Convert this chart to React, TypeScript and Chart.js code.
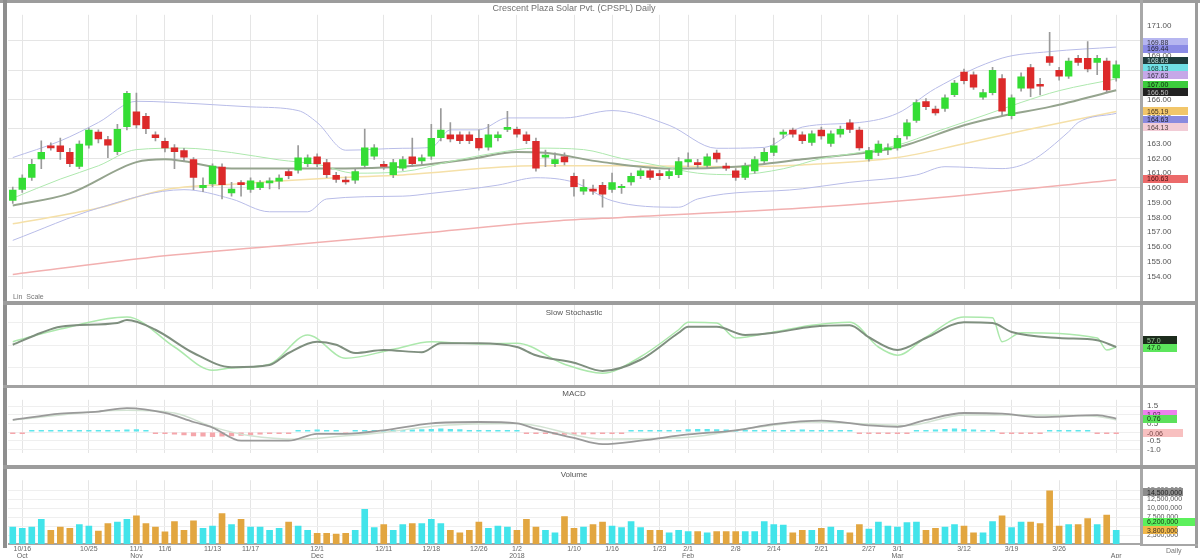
import React, { useEffect, useRef } from 'react';
import { Chart, registerables } from 'chart.js';

Chart.register(...registerables);

const FONT = "'Liberation Sans', Arial, Helvetica, sans-serif";

// ---------------- DATA ----------------
const opens = [159.13,159.88,160.69,161.94,162.88,162.88,162.44,161.44,162.88,163.81,163.31,162.44,164.13,165.19,164.88,163.63,163.19,162.75,162.56,161.94,160.0,160.25,161.44,159.63,160.38,159.88,160.0,160.31,160.44,161.13,161.19,161.63,162.13,161.75,160.88,160.56,160.5,161.5,162.13,161.63,160.88,161.31,162.13,161.81,162.13,163.38,163.63,163.63,163.63,163.38,162.75,163.38,163.94,164.0,163.63,163.19,162.06,161.63,162.13,160.81,159.75,159.94,160.19,159.88,160.0,160.38,160.81,161.19,161.0,160.81,160.88,161.75,161.75,161.5,162.38,161.5,161.19,160.69,161.13,161.81,162.38,163.63,163.94,163.63,163.06,163.94,163.0,163.63,164.44,163.94,161.94,162.38,162.56,162.69,163.5,164.56,165.88,165.38,165.38,166.31,167.88,167.69,166.13,166.44,167.44,164.88,166.75,168.19,167.06,168.94,168.0,167.56,168.81,168.81,168.5,168.63,167.44];
const highs = [160.06,160.88,161.94,163.19,163.06,163.38,162.69,163.19,164.06,163.94,163.5,164.31,166.56,166.44,165.06,163.81,163.38,162.94,162.69,162.06,160.69,161.63,161.63,160.38,160.5,160.69,160.5,160.69,160.88,161.31,162.88,162.25,162.31,161.94,161.06,160.75,161.31,164.0,162.94,161.81,161.94,162.13,163.38,162.25,164.31,165.38,164.44,163.81,163.81,163.94,164.31,163.81,165.19,164.13,163.81,163.38,162.56,162.38,162.38,161.0,160.56,160.19,160.38,161.0,160.25,161.0,161.31,161.31,161.19,161.31,162.06,162.38,161.94,162.31,162.56,161.69,161.31,161.69,162.13,162.69,163.38,163.94,164.06,163.81,163.88,164.13,163.88,164.19,164.63,164.13,162.75,163.19,163.0,163.56,164.63,166.0,166.06,165.56,166.31,167.31,168.06,167.88,166.69,168.19,167.69,166.31,167.81,168.38,167.44,170.56,168.19,168.81,169.0,169.94,169.0,168.81,168.63];
const lows = [158.94,159.69,160.5,161.31,162.56,161.94,161.44,161.31,162.69,163.06,162.06,162.25,163.94,164.06,163.69,163.19,162.44,161.31,161.81,159.88,159.75,160.06,159.25,159.44,159.44,159.69,159.88,159.94,159.94,160.63,161.0,161.44,161.44,160.69,160.38,160.25,160.31,161.31,161.94,161.25,160.69,161.19,161.44,161.63,161.94,163.19,163.13,163.0,163.0,162.56,162.56,163.19,163.81,163.44,163.0,161.13,161.44,161.44,161.56,159.44,159.56,159.56,158.69,159.69,159.63,160.19,160.63,160.56,160.56,160.63,160.69,161.44,161.31,161.31,161.75,161.19,160.5,160.56,161.0,161.63,162.19,163.38,163.44,163.0,162.88,163.31,162.81,163.44,163.75,162.56,161.81,162.19,162.25,162.56,163.31,164.44,165.31,164.94,165.19,166.19,167.06,166.69,166.0,166.31,164.94,164.69,166.56,166.19,166.31,168.31,167.31,167.44,168.31,167.88,167.69,166.44,167.25];
const closes = [159.88,160.69,161.63,162.44,162.69,162.44,161.63,163.0,163.94,163.31,162.88,164.0,166.44,164.25,164.0,163.38,162.69,162.44,162.06,160.69,160.19,161.5,160.19,159.94,160.19,160.5,160.38,160.5,160.69,160.81,162.06,162.06,161.63,160.88,160.56,160.38,161.13,162.75,162.75,161.44,161.75,161.94,161.63,162.06,163.38,163.94,163.31,163.19,163.19,162.69,163.63,163.63,164.13,163.63,163.19,161.31,162.25,161.94,161.75,160.06,160.06,159.75,159.56,160.38,160.06,160.81,161.19,160.69,160.81,161.13,161.81,161.94,161.56,162.13,161.94,161.31,160.69,161.5,161.94,162.44,162.88,163.81,163.63,163.19,163.69,163.5,163.69,164.0,163.94,162.69,162.56,163.0,162.75,163.38,164.44,165.81,165.5,165.06,166.13,167.13,167.25,166.81,166.5,168.0,165.19,166.13,167.56,166.75,166.88,168.5,167.56,168.63,168.5,168.06,168.81,166.63,168.38];

// volume in millions of shares
const volumes = [4.8,4.5,4.8,7.0,3.9,4.8,4.5,5.5,5.1,3.7,5.8,6.2,7.0,8.0,5.8,4.8,3.5,6.4,3.9,6.6,4.5,5.1,8.6,5.5,7.0,4.8,4.8,3.9,4.5,6.2,5.1,3.9,3.1,3.1,2.9,3.1,3.9,9.8,4.7,5.5,3.9,5.5,5.8,5.8,7.0,5.8,3.9,3.2,3.9,6.2,4.5,5.1,4.8,3.9,7.0,4.8,3.9,3.2,7.8,4.5,4.8,5.5,6.2,5.1,4.7,6.4,4.7,3.9,3.9,3.2,3.9,3.6,3.6,3.2,3.6,3.6,3.6,3.6,3.6,6.4,5.5,5.4,3.2,3.9,3.9,4.5,4.8,3.9,3.2,5.5,4.3,6.2,5.1,4.8,6.1,6.2,3.9,4.5,4.8,5.5,5.1,3.2,3.2,6.4,8.0,4.7,6.2,6.2,5.8,15.0,5.1,5.5,5.5,7.2,5.5,8.2,3.9];

const macdHist = [-0.05,-0.04,0.02,0.06,0.08,0.1,0.08,0.06,0.1,0.12,0.1,0.08,0.14,0.16,0.04,-0.06,-0.1,-0.14,-0.18,-0.24,-0.26,-0.28,-0.26,-0.24,-0.22,-0.18,-0.14,-0.1,-0.06,-0.02,0.08,0.12,0.14,0.1,0.02,-0.02,0.02,0.06,0.08,0.1,0.12,0.12,0.14,0.16,0.18,0.2,0.18,0.16,0.12,0.1,0.08,0.06,0.04,0.02,-0.02,-0.06,-0.1,-0.14,-0.16,-0.16,-0.14,-0.12,-0.1,-0.08,-0.06,0.02,0.04,0.06,0.08,0.1,0.12,0.16,0.18,0.18,0.16,0.14,0.12,0.1,0.08,0.06,0.08,0.1,0.12,0.14,0.12,0.08,0.06,0.04,0.04,-0.04,-0.08,-0.1,-0.1,-0.08,-0.04,0.06,0.1,0.14,0.18,0.2,0.18,0.14,0.1,0.06,-0.04,-0.08,-0.1,-0.08,-0.06,0.04,0.06,0.06,0.04,0.02,-0.02,-0.06,-0.08];

// [candle index, value] readings of the overlay lines
const bbUpper = [[0,162.06],[5,163.19],[9,164.44],[13,165.88],[20,165.69],[25,165.5],[30,165.25],[32,164.44],[35,162.56],[41,162.69],[44,162.75],[46,163.94],[49,163.94],[52,164.75],[58,164.75],[63,165.25],[69,164.25],[74,162.69],[79,162.75],[83,164.13],[89,164.44],[93,165.06],[97,166.75],[104,168.81],[109,169.25],[116,169.56]];
const bbLower = [[0,156.44],[9,158.63],[18,159.88],[23,159.25],[27,158.38],[31,158.38],[33,159.25],[41,159.44],[44,159.63],[51,160.19],[55,160.69],[59,160.38],[63,159.13],[70,158.69],[72,159.25],[83,159.94],[88,160.38],[95,160.88],[98,161.44],[104,161.31],[107,161.81],[111,163.81],[112,164.44],[116,165.06]];
const bbMiddle = [[0,159.3],[5,160.6],[9,161.5],[13,162.6],[18,162.7],[23,162.4],[28,161.9],[32,161.6],[36,161.0],[41,161.1],[46,161.8],[51,162.4],[55,162.7],[60,162.6],[64,162.0],[68,161.5],[72,161.0],[76,160.9],[81,161.3],[85,162.0],[89,162.4],[93,162.9],[97,163.8],[102,164.9],[106,165.8],[110,166.6],[116,167.4]];
const ma50 = [[0,158.81],[6,159.63],[13,161.75],[16,161.94],[23,161.31],[30,161.31],[41,161.44],[48,161.94],[53,162.44],[56,162.38],[62,161.75],[69,161.31],[76,161.44],[83,161.94],[93,162.75],[100,164.25],[104,164.88],[109,165.5],[116,166.63]];
const ma100 = [[0,157.56],[9,158.63],[16,159.88],[23,160.25],[34,160.69],[41,160.88],[55,161.5],[65,161.5],[76,161.44],[83,161.56],[93,162.06],[100,163.0],[107,164.0],[116,165.19]];
const ma200 = [[0,154.13],[14,155.25],[29,156.13],[41,156.81],[57,157.75],[64,158.0],[83,158.63],[99,159.44],[116,160.56]];

const stochK = [[0,51],[3,67],[5,75],[11,80],[12,84],[15,71],[19,40],[23,21],[27,24],[29,40],[32,55],[34,51],[36,40],[39,44],[43,41],[45,53],[49,53],[53,48],[55,37],[59,27],[62,16],[66,31],[70,67],[71,75],[74,75],[77,64],[80,67],[84,75],[88,77],[90,61],[93,44],[96,60],[100,81],[103,80],[105,68],[110,60],[114,57],[116,48]];
const stochD = [[0,55],[5,72],[12,88],[17,48],[21,17],[23,20],[27,25],[31,64],[35,33],[40,45],[44,55],[49,52],[53,53],[58,25],[62,13],[66,35],[70,71],[71,81],[74,80],[76,60],[80,68],[84,77],[88,81],[91,48],[93,37],[96,61],[100,88],[103,87],[104,55],[106,67],[114,60],[115,44],[116,48]];

const macdLine = [[0,0.70],[5,1.06],[9,1.18],[12,1.38],[16,1.10],[19,0.58],[21,0.26],[24,-0.50],[29,-0.50],[32,-0.10],[35,-0.10],[39,0.10],[44,0.50],[49,0.58],[53,0.50],[55,0.18],[59,-0.34],[62,-0.70],[66,-0.50],[71,-0.14],[76,0.10],[80,0.46],[85,0.66],[90,0.38],[93,0.30],[96,0.70],[100,1.10],[104,1.06],[108,0.86],[114,0.98],[116,0.78]];
const macdSignal = [[0,0.70],[12,1.26],[17,1.10],[21,0.30],[25,-0.22],[30,-0.42],[35,-0.22],[39,-0.02],[45,0.38],[53,0.50],[62,-0.40],[71,-0.30],[78,0.26],[84,0.58],[90,0.46],[94,0.38],[100,0.98],[106,0.98],[114,0.90],[116,0.70]];

const tickIdx = [1, 8, 13, 16, 21, 25, 32, 39, 44, 49, 53, 59, 63, 68, 71, 76, 80, 85, 90, 93, 100, 105, 110, 116];
const tickLabels: any[] = [['10/16','Oct'],'10/25',['11/1','Nov'],'11/6','11/13','11/17',['12/1','Dec'],'12/11','12/18','12/26',['1/2','2018'],'1/10','1/16','1/23',['2/1','Feb'],'2/8','2/14','2/21','2/27',['3/1','Mar'],'3/12','3/19','3/26',['','Apr']];

const priceTicks = [154,155,156,157,158,159,160,161,162,163,164,165,166,167,168,169,170,171];
const stochTicks = [20, 50, 80];
const macdTicks = [-1.0, -0.5, 0, 0.5, 1.0, 1.5];
const volTicks = [2.5, 5, 7.5, 10, 12.5, 15];

const mainTagValues = [169.88, 169.44, 168.63, 168.13, 167.63, 167.0, 166.5, 165.19, 164.63, 164.13, 160.63];
const stochTagValues = [57, 47];
const macdTagValues = [1.02, 0.76, -0.06];
const volTagValues = [14.5, 6.2, 3.8];

// ---------------- STYLES ----------------
const GRID = '#e5e5e5';
const UP = '#35dd35';
const DOWN = '#dc2a2a';
const mainTagStyle = [
  { bg: '#b6b6f0', fg: '#334' }, { bg: '#8c8ce6', fg: '#223' }, { bg: '#1e3c3c', fg: '#bdd' },
  { bg: '#70e0e6', fg: '#244' }, { bg: '#c6a8e8', fg: '#334' }, { bg: '#3ccc3c', fg: '#121' },
  { bg: '#222222', fg: '#bbb' }, { bg: '#f2c66a', fg: '#432' }, { bg: '#8a8ade', fg: '#223' },
  { bg: '#f2ccd6', fg: '#544' }, { bg: '#ec6a6a', fg: '#411' },
];
const stochTagStyle = [{ bg: '#1c2c1c', fg: '#9c9', w: 34 }, { bg: '#5ce65c', fg: '#131', w: 34 }];
const macdTagStyle = [{ bg: '#ee80ee', fg: '#424', w: 34 }, { bg: '#5ce05c', fg: '#131', w: 34 }, { bg: '#f8c0c0', fg: '#744', w: 40 }];
const volTagStyle = [{ bg: '#8c8c8c', fg: '#222', w: 40 }, { bg: '#5cf05c', fg: '#131', w: 57 }, { bg: '#f2b84a', fg: '#432', w: 34 }];

const pts = (arr: number[][]) => arr.map(([x, y]) => ({ x, y }));

function makeTagPlugin(items: { v: number; text: string; bg: string; fg: string; w?: number }[]) {
  return {
    id: 'tagBoxes',
    afterDraw(chart: any) {
      const scale = chart.scales.y;
      const ctx = chart.ctx;
      ctx.save();
      ctx.font = `7px ${FONT}`;
      ctx.textBaseline = 'middle';
      ctx.textAlign = 'left';
      for (const it of items) {
        const y = scale.getPixelForValue(it.v);
        const x = chart.chartArea.right + 3;
        ctx.fillStyle = it.bg;
        ctx.fillRect(x, Math.round(y - 4), it.w ?? 45, 8);
        ctx.fillStyle = it.fg;
        ctx.fillText(it.text, x + 4, y + 0.5);
      }
      ctx.restore();
    },
  };
}

function xAxis(showLabels: boolean) {
  return {
    type: 'linear',
    min: -0.5,
    max: 118.5,
    offset: false,
    afterBuildTicks: (s: any) => { s.ticks = tickIdx.map((v) => ({ value: v })); },
    afterFit: (s: any) => { s.height = showLabels ? 14 : 0; },
    grid: { color: GRID, lineWidth: 1, drawTicks: false, offset: false },
    border: { display: showLabels, color: '#a6a6a6', width: 2 },
    ticks: {
      display: showLabels,
      autoSkip: false,
      maxRotation: 0,
      minRotation: 0,
      padding: 2,
      color: '#666',
      font: { size: 7, family: FONT, lineHeight: 0.95 },
      callback: (v: any) => { const k = tickIdx.indexOf(Number(v)); return k >= 0 ? tickLabels[k] : ''; },
    },
  };
}

function yAxis(min: number, max: number, ticks: number[], fmt: ((v: number) => string) | null, gridColor: any, fontSize = 8) {
  return {
    type: 'linear',
    position: 'right',
    min,
    max,
    afterBuildTicks: (s: any) => { s.ticks = ticks.map((v) => ({ value: v })); },
    afterFit: (s: any) => { s.width = 55; },
    grid: { color: gridColor, lineWidth: 1, drawTicks: false },
    border: { display: false },
    ticks: {
      display: fmt !== null,
      padding: 7,
      color: '#555',
      font: { size: fontSize, family: FONT },
      callback: (v: any) => (fmt ? fmt(Number(v)) : ''),
    },
  };
}

const baseOptions = {
  responsive: false,
  maintainAspectRatio: false,
  animation: false,
  events: [],
  layout: { padding: 0 },
  plugins: { legend: { display: false }, tooltip: { enabled: false }, title: { display: false } },
};

const line = (arr: number[][], color: string, width: number) => ({
  type: 'line',
  data: pts(arr),
  borderColor: color,
  borderWidth: width,
  pointRadius: 0,
  fill: false,
  cubicInterpolationMode: 'monotone',
});

function mainConfig(): any {
  const bodies = opens.map((o, i) => ({ x: i, y: [o, closes[i]] }));
  const wicks = lows.map((l, i) => ({ x: i, y: [l, highs[i]] }));
  const colors = opens.map((o, i) => (closes[i] >= o ? UP : DOWN));
  const tags = mainTagValues.map((v, i) => ({ v, text: v.toFixed(2), ...mainTagStyle[i] }));
  return {
    type: 'bar',
    data: {
      datasets: [
        { type: 'bar', data: bodies, backgroundColor: colors, borderWidth: 0, grouped: false, barPercentage: 0.78, categoryPercentage: 1, minBarLength: 2 },
        { type: 'bar', data: wicks, backgroundColor: '#9a9a9a', borderWidth: 0, grouped: false, barThickness: 1 },
        line(bbUpper, '#b8bce8', 1),
        line(bbLower, '#b8bce8', 1),
        line(bbMiddle, '#aee8ae', 1),
        line(ma50, '#95a48e', 2),
        line(ma100, '#f5e0a8', 1.5),
        line(ma200, '#f2b0b0', 1.5),
      ],
    },
    options: {
      ...baseOptions,
      scales: {
        x: xAxis(false),
        y: yAxis(153.125, 171.75, priceTicks, (v) => v.toFixed(2), (ctx: any) => (ctx.tick && Math.round(ctx.tick.value) % 2 === 0 ? GRID : 'rgba(0,0,0,0)')),
      },
    },
    plugins: [makeTagPlugin(tags)],
  };
}

function stochConfig(): any {
  const tags = stochTagValues.map((v, i) => ({ v, text: v.toFixed(1), ...stochTagStyle[i] }));
  return {
    type: 'line',
    data: {
      datasets: [
        { ...line(stochK, '#7f8f7f', 2) },
        { ...line(stochD, '#ace8ac', 1.5) },
      ],
    },
    options: {
      ...baseOptions,
      scales: { x: xAxis(false), y: yAxis(-2.67, 104, stochTicks, null, '#efefef') },
    },
    plugins: [makeTagPlugin(tags)],
  };
}

function macdConfig(): any {
  const tags = macdTagValues.map((v, i) => ({ v, text: v.toFixed(2), ...macdTagStyle[i] }));
  return {
    type: 'bar',
    data: {
      datasets: [
        line(macdLine, '#9a9a9a', 1.8),
        line(macdSignal, '#d3e3d3', 1.5),
        {
          type: 'bar',
          data: macdHist.map((v, i) => ({ x: i, y: v })),
          backgroundColor: macdHist.map((v) => (v >= 0 ? '#5ee6ec' : '#f5a6ab')),
          borderWidth: 0,
          grouped: false,
          barPercentage: 0.55,
          categoryPercentage: 1,
          minBarLength: 2,
        },
      ],
    },
    options: {
      ...baseOptions,
      scales: { x: xAxis(false), y: yAxis(-1.22, 1.86, macdTicks, (v) => v.toFixed(1), '#efefef') },
    },
    plugins: [makeTagPlugin(tags)],
  };
}

function volConfig(): any {
  const tags = volTagValues.map((v, i) => ({ v, text: Math.round(v * 1000000).toLocaleString('en-US'), ...volTagStyle[i] }));
  return {
    type: 'bar',
    data: {
      datasets: [
        {
          type: 'bar',
          data: volumes.map((v, i) => ({ x: i, y: v })),
          backgroundColor: opens.map((o, i) => (closes[i] >= o ? '#42e4ea' : '#e2a640')),
          borderWidth: 0,
          grouped: false,
          barPercentage: 0.7,
          categoryPercentage: 1,
        },
      ],
    },
    options: {
      ...baseOptions,
      scales: {
        x: xAxis(true),
        y: yAxis(0, 17.86, volTicks, (v) => Math.round(v * 1000000).toLocaleString('en-US'), '#efefef', 7),
      },
    },
    plugins: [makeTagPlugin(tags)],
  };
}

const W = 1187;

export default function App() {
  const mainRef = useRef<HTMLCanvasElement>(null);
  const stochRef = useRef<HTMLCanvasElement>(null);
  const macdRef = useRef<HTMLCanvasElement>(null);
  const volRef = useRef<HTMLCanvasElement>(null);

  useEffect(() => {
    const charts: Chart[] = [];
    if (mainRef.current) charts.push(new Chart(mainRef.current, mainConfig()));
    if (stochRef.current) charts.push(new Chart(stochRef.current, stochConfig()));
    if (macdRef.current) charts.push(new Chart(macdRef.current, macdConfig()));
    if (volRef.current) charts.push(new Chart(volRef.current, volConfig()));
    return () => charts.forEach((c) => c.destroy());
  }, []);

  const canvasStyle = (top: number, h: number): React.CSSProperties => ({
    position: 'absolute', left: 8, top, width: W, height: h, display: 'block',
  });
  const bar = (left: number, top: number, width: number, height: number, bg: string): React.CSSProperties => ({
    position: 'absolute', left, top, width, height, background: bg,
  });
  const label = (top: number, size: number, color: string): React.CSSProperties => ({
    position: 'absolute', left: 374, top, width: 400, textAlign: 'center', fontSize: size,
    lineHeight: `${size + 1}px`, color, fontFamily: FONT, whiteSpace: 'nowrap',
  });

  return (
    <div style={{ position: 'absolute', left: 0, top: 0, width: 1200, height: 558, background: '#fff', overflow: 'hidden', fontFamily: FONT }}>
      <canvas ref={mainRef} width={W} height={298} style={canvasStyle(3, 298)} />
      <canvas ref={stochRef} width={W} height={80} style={canvasStyle(305, 80)} />
      <canvas ref={macdRef} width={W} height={77} style={canvasStyle(388, 77)} />
      <canvas ref={volRef} width={W} height={89} style={canvasStyle(469, 89)} />

      <div style={bar(0, 0, 1200, 3, '#9c9c9c')} />
      <div style={bar(3, 0, 4, 548, '#8e8e8e')} />
      <div style={bar(1195, 0, 3, 548, '#9c9c9c')} />
      <div style={bar(1140, 0, 3, 546, '#a8a8a8')} />
      <div style={bar(3, 301, 1195, 4, '#9c9c9c')} />
      <div style={bar(3, 385, 1195, 3, '#a2a2a2')} />
      <div style={bar(3, 465, 1195, 4, '#9c9c9c')} />
      <div style={bar(1140, 544, 58, 2, '#a6a6a6')} />

      <div style={label(3, 9, '#707070')}>Crescent Plaza Solar Pvt. (CPSPL) Daily</div>
      <div style={label(308, 8, '#555')}>Slow Stochastic</div>
      <div style={label(389, 8, '#555')}>MACD</div>
      <div style={label(470, 8, '#555')}>Volume</div>
      <div style={{ position: 'absolute', left: 13, top: 293, fontSize: 7, color: '#777', fontFamily: FONT }}>Lin&nbsp;&nbsp;Scale</div>
      <div style={{ position: 'absolute', left: 1166, top: 547, fontSize: 7, color: '#777', fontFamily: FONT }}>Daily</div>
    </div>
  );
}
